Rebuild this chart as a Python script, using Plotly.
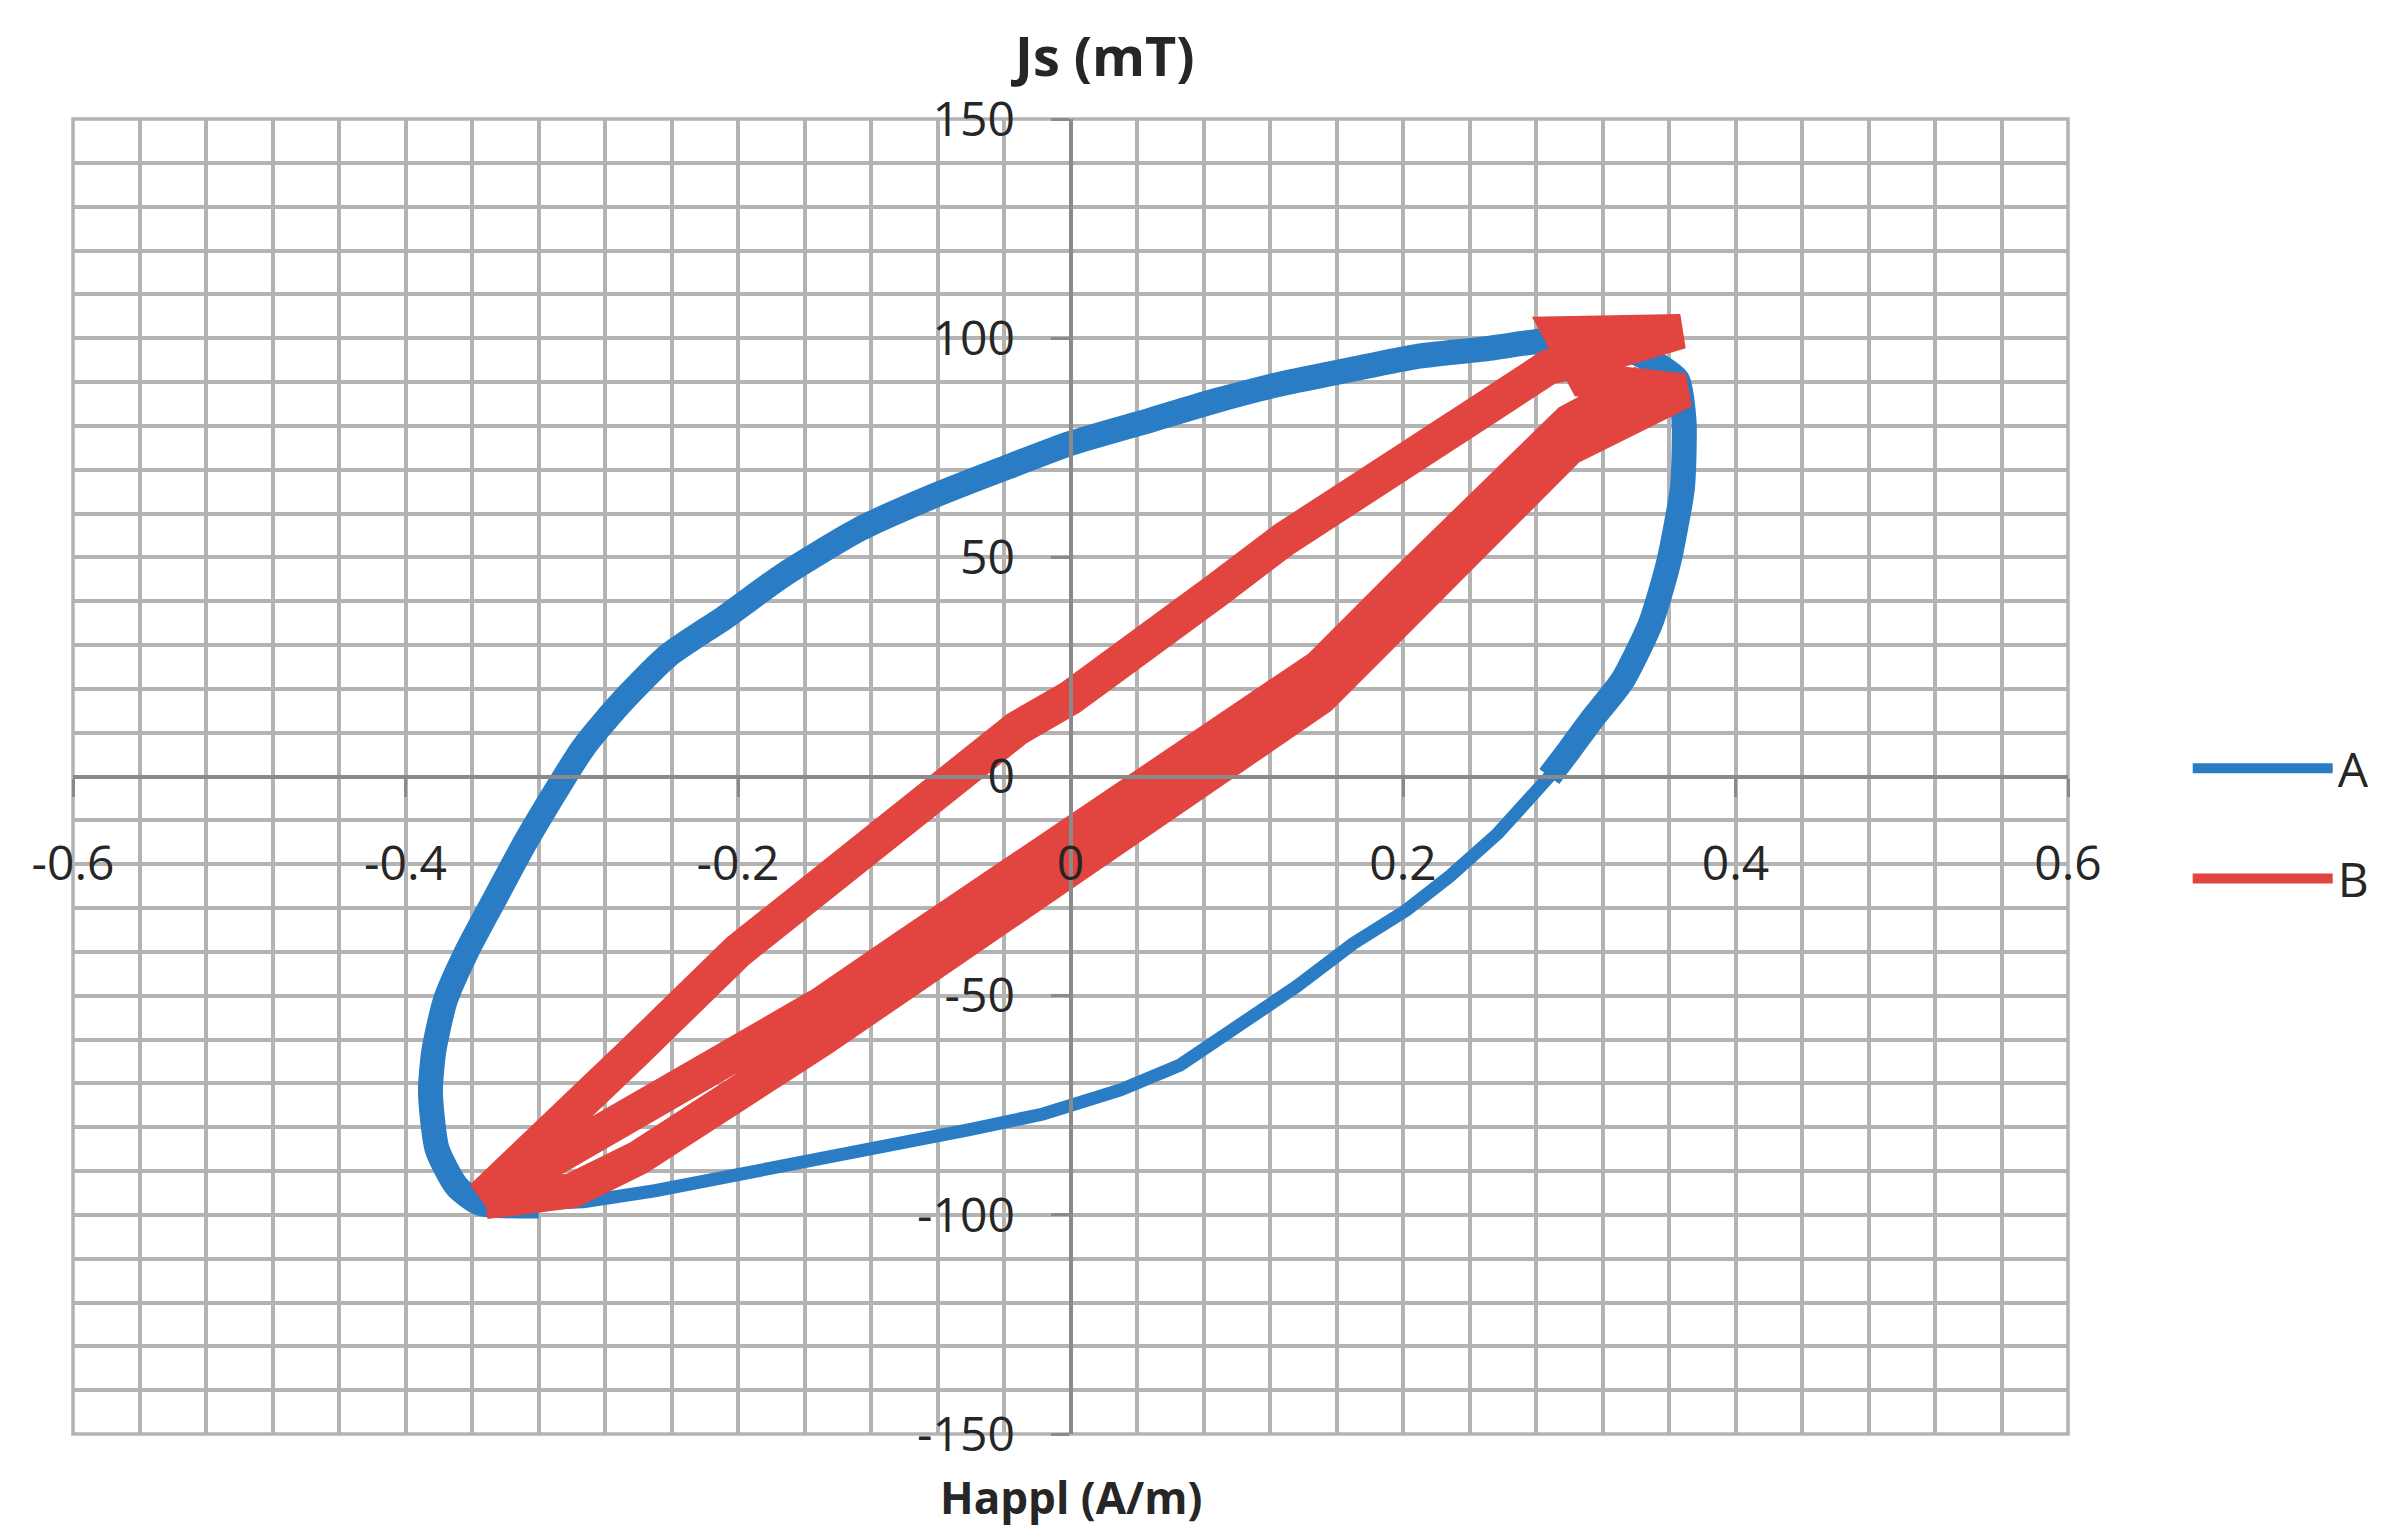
import plotly.graph_objects as go

# series A (blue) - thin lower branch, then the thick rest of the loop
a_low_h = [-0.355, -0.32, -0.293, -0.25, -0.2, -0.15, -0.109, -0.06, -0.0165, 0.03,
           0.066, 0.10, 0.136, 0.170, 0.202, 0.228, 0.257, 0.288, 0.305]
a_low_j = [-98.0, -97.8, -97.0, -94.5, -91.0, -87.5, -84.0, -80.5, -77.0, -71.5,
           -65.8, -57.5, -47.9, -38.1, -30.5, -22.8, -13.0, 0.0, 9.0]

a_up_h = [0.288, 0.300, 0.314, 0.332, 0.349, 0.360, 0.368, 0.369, 0.369, 0.365, 0.341, 0.320,
          0.300, 0.288, 0.248, 0.208, 0.168, 0.128, 0.088, 0.048, 0.0, -0.042,
          -0.081, -0.127, -0.173, -0.208, -0.242, -0.270, -0.293, -0.327, -0.345,
          -0.363, -0.376, -0.383, -0.385, -0.381, -0.369, -0.355, -0.320]
a_up_j = [0.0, 6.0, 13.2, 21.9, 35.0, 49.2, 65.6, 73.0, 81.3, 90.5, 96.5, 98.8,
          99.6, 99.6, 97.5, 95.8, 92.8, 89.7, 85.8, 81.3, 76.0, 70.0,
          64.2, 56.4, 45.9, 36.3, 27.6, 17.0, 6.6, -14.4, -27.0,
          -39.8, -51.0, -62.7, -72.0, -85.0, -93.6, -97.4, -98.0]

# series B (red) - two rising passes, the top flag and the falling branch
b_h = [-0.352, -0.30, -0.26, -0.2, -0.15, -0.1, -0.05, 0.0, 0.05, 0.1, 0.15, 0.2, 0.25, 0.3, 0.369,
       0.31, 0.295, 0.367, 0.31,
       0.288, 0.248, 0.208, 0.168, 0.128, 0.088, 0.048, 0.0, -0.032, -0.0725, -0.133, -0.2,
       -0.262, -0.323, -0.354,
       -0.31, -0.277, -0.2, -0.15, -0.1, -0.05, 0.0, 0.05, 0.1, 0.15, 0.2, 0.25, 0.3, 0.345]
b_j = [-97.0, -94.5, -87.0, -73.0, -60.0, -47.0, -34.0, -22.0, -9.0, 4.0, 18.0, 37.0, 57.0, 75.0, 88.0,
       90.5, 101.0, 101.5, 95.0,
       93.5, 83.6, 74.5, 64.6, 54.0, 42.5, 31.0, 18.0, 11.0, -1.6, -20.6, -39.8,
       -62.7, -85.7, -96.0,
       -87.0, -80.0, -64.0, -52.0, -39.0, -26.0, -14.0, -1.0, 12.0, 25.0, 44.0, 63.0, 81.0, 90.0]

x_ticks = [-0.6, -0.4, -0.2, 0, 0.2, 0.4, 0.6]
x_tick_text = ['-0.6', '-0.4', '-0.2', '0', '0.2', '0.4', '0.6']
y_ticks = [-150, -100, -50, 0, 50, 100, 150]
y_tick_text = ['-150', '-100', '-50', '0', '50', '100', '150']

blue = '#2a7dc4'
red = '#e2443f'
grid = '#b3b3b3'
axis_col = '#8a8a8a'
font = 'Open Sans'

fig = go.Figure()

fig.add_trace(go.Scatter(x=a_low_h, y=a_low_j, mode='lines', showlegend=False,
                         line=dict(color=blue, width=13)))
fig.add_trace(go.Scatter(x=a_up_h, y=a_up_j, mode='lines', showlegend=False,
                         line=dict(color=blue, width=25, shape='spline', smoothing=0.6)))
fig.add_trace(go.Scatter(x=b_h, y=b_j, mode='lines', showlegend=False,
                         line=dict(color=red, width=35)))

# legend entries
fig.add_trace(go.Scatter(x=[None], y=[None], mode='lines', name='A', legendgroup='A',
                         line=dict(color=blue, width=13)))
fig.add_trace(go.Scatter(x=[None], y=[None], mode='lines', name='B', legendgroup='B',
                         line=dict(color=red, width=13)))

fig.update_xaxes(range=[-0.6, 0.6], tickvals=x_ticks, ticktext=x_tick_text,
                 anchor='free', position=0.5, showline=True, linecolor=axis_col, linewidth=4,
                 ticks='outside', ticklen=18, tickwidth=3, tickcolor=axis_col,
                 ticklabelstandoff=26,
                 showgrid=True, gridcolor=grid, gridwidth=3.5, zeroline=False,
                 minor=dict(dtick=0.04, showgrid=True, gridcolor=grid, gridwidth=3.5),
                 tickfont=dict(family=font, size=48, color='#262626'))
fig.update_yaxes(range=[-150, 150], tickvals=y_ticks, ticktext=y_tick_text,
                 anchor='free', position=0.5, showline=True, linecolor=axis_col, linewidth=4,
                 ticks='outside', ticklen=18, tickwidth=3, tickcolor=axis_col,
                 ticklabelstandoff=26,
                 showgrid=True, gridcolor=grid, gridwidth=3.5, zeroline=False,
                 minor=dict(dtick=10, showgrid=True, gridcolor=grid, gridwidth=3.5),
                 tickfont=dict(family=font, size=48, color='#262626'))

fig.update_layout(
    width=2385, height=1524,
    margin=dict(l=65, r=325, t=111, b=98),
    plot_bgcolor='white', paper_bgcolor='white',
    showlegend=True,
    legend=dict(x=1.06, y=0.535, xanchor='left', yanchor='top',
                font=dict(family=font, size=48, color='#262626'),
                itemwidth=140, tracegroupgap=45, traceorder='grouped',
                bgcolor='rgba(0,0,0,0)'),
    shapes=[dict(type='rect', xref='paper', yref='paper', x0=0, y0=0, x1=1, y1=1,
                 line=dict(color=grid, width=3.5), layer='below')],
    annotations=[
        dict(text='<b>Js (mT)</b>', xref='paper', yref='paper', x=0.5158, y=1.0487,
             xanchor='center', yanchor='middle', showarrow=False,
             font=dict(family=font, size=54, color='#262626')),
        dict(text='<b>Happl (A/m)</b>', xref='paper', yref='paper', x=0.5003, y=-0.048,
             xanchor='center', yanchor='middle', showarrow=False,
             font=dict(family=font, size=44, color='#262626')),
    ],
)

fig.write_html('out.html')
